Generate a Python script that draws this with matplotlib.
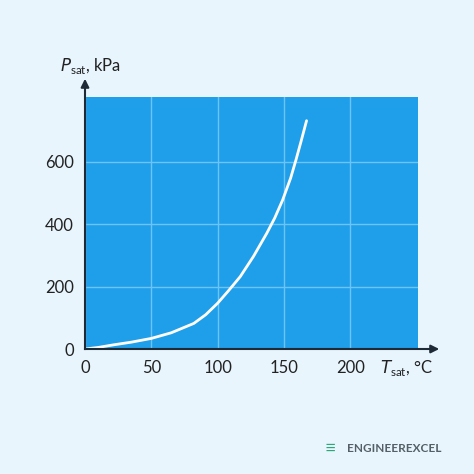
import matplotlib
matplotlib.use("Agg")
import matplotlib.pyplot as plt

T_sat = [0, 10, 21, 35, 50, 65, 82, 91, 100, 108, 117, 127, 137, 143, 149, 155, 159, 163, 167]
P_sat = [0, 5, 13, 22, 34, 52, 82, 110, 147, 186, 232, 297, 371, 420, 478, 548, 606, 668, 732]
x_ticks = [0, 50, 100, 150, 200]
y_ticks = [0, 200, 400, 600]

W = 474
plt.rcParams['font.family'] = ['Lato', 'DejaVu Sans']
fig = plt.figure(figsize=(4.74, 4.74), dpi=100)
bg = "#e8f5fd"
fig.patch.set_facecolor(bg)
ax = fig.add_axes([85/W, 125/W, 333/W, 252/W])
ax.set_facecolor("#1f9fe9")
ax.plot(T_sat, P_sat, color="white", lw=2, solid_capstyle="round", solid_joinstyle="round")
ax.set_xlim(0, 251)
ax.set_ylim(0, 808)
ax.set_xticks(x_ticks)
ax.set_yticks(y_ticks)
ax.grid(True, color="#6cc3f5", lw=1)
for s in ax.spines.values():
    s.set_visible(False)
ax.tick_params(length=0, labelsize=12, colors="#222222", pad=8)
ax.set_axisbelow(True)

fig.add_artist(plt.Line2D([85/W, 85/W], [125/W, 392/W], color="#1e2b36", lw=1.5))
fig.add_artist(plt.Line2D([85/W, 432/W], [125/W, 125/W], color="#1e2b36", lw=1.5))
ax.annotate("", xy=(85/W, 398/W), xytext=(85/W, 385/W), xycoords="figure fraction",
            arrowprops=dict(arrowstyle="-|>", color="#1e2b36", lw=1.5, mutation_scale=12))
ax.annotate("", xy=(442/W, 125/W), xytext=(428/W, 125/W), xycoords="figure fraction",
            arrowprops=dict(arrowstyle="-|>", color="#1e2b36", lw=1.5, mutation_scale=12))

fig.text(60/W, 408/W, r"$P_{\mathregular{sat}}$, kPa", fontsize=12, color="#222222",
         ha="left", va="center")
fig.text(380/W, 106/W, r"$T_{\mathregular{sat}}$, °C", fontsize=12, color="#222222",
         ha="left", va="center")
fig.text(347/W, 26/W, "ENGINEEREXCEL", fontsize=8.5, color="#555f66",
         ha="left", va="center", fontweight="bold")
fig.text(330/W, 26/W, "≡", fontsize=14, color="#2aa876", ha="center", va="center")

fig.savefig("out.png", dpi=100, facecolor=bg)
